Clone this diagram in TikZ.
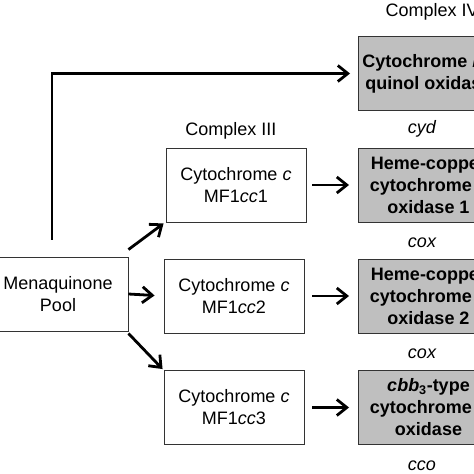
\documentclass[tikz,border=0pt]{standalone}
\usepackage{fontspec}
\setmainfont{Liberation Sans}
\usetikzlibrary{arrows.meta}

\begin{document}
\begin{tikzpicture}[x=1pt,y=-1pt,>={Straight Barb[length=10pt,width=16pt]},
	box/.style = {draw=black!80,line width=0.9pt,minimum width=140pt,minimum height=74pt,inner sep=0pt,align=center,font=\fontsize{18}{22}\selectfont},
	enzyme/.style = {box,fill=black!25,font=\fontsize{18}{22}\selectfont\bfseries},
	tag/.style = {font=\fontsize{18}{22}\selectfont},
	gene/.style = {tag,font=\fontsize{18}{22}\selectfont\itshape},
	flow/.style = {->,line width=2.8pt}
	]
	\useasboundingbox (0,0) rectangle (474,474);
	\clip (0,0) rectangle (474,474);
	%POOL
	\node[box] (@mq) at (58,294) {Menaquinone\\Pool};
	%COMPLEX III
	\node[tag] (@c3tag) at (231,131) {Complex III};
	\node[box] (@cc1) at (236,185) {Cytochrome \textit{c}\\MF1\textit{cc}1};
	\node[box] (@cc2) at (234,296) {Cytochrome \textit{c}\\MF1\textit{cc}2};
	\node[box] (@cc3) at (234,407.5) {Cytochrome \textit{c}\\MF1\textit{cc}3};
	%COMPLEX IV
	\node[tag,anchor=west] (@c4tag) at (382,12) {Complex IV};
	\node[enzyme] (@bd) at (428.5,73.5) {Cytochrome \textit{bd}\\quinol oxidase};
	\node[enzyme] (@h1) at (428.5,185) {Heme-copper\\cytochrome \textit{c}\\oxidase 1};
	\node[enzyme] (@h2) at (428.5,296) {Heme-copper\\cytochrome \textit{c}\\oxidase 2};
	\node[enzyme] (@cbb) at (428.5,407.5) {\textit{cbb}\textsubscript{3}-type\\cytochrome \textit{c}\\oxidase};
	%Geni
	\node[gene] (@cyd) at (422,129) {cyd};
	\node[gene] (@cox1) at (422,243) {cox};
	\node[gene] (@cox2) at (422,354) {cox};
	\node[gene] (@cco) at (422,466) {cco};
	%Frecce dal pool
	\draw[flow,shorten >=8pt] ([xshift=-6pt,yshift=17pt]@mq.north) |- (@bd.west);
	\draw[flow] ([yshift=7pt]@mq.north east) -- ([xshift=-2pt,yshift=-1pt]@cc1.south west);
	\draw[flow,shorten >=9pt] (@mq.east) -- (@cc2.west);
	\draw[flow] ([yshift=-2pt]@mq.south east) -- ([xshift=-1pt,yshift=1pt]@cc3.north west);
	%Frecce verso IV
	\draw[flow,shorten <=6pt,shorten >=9pt] (@cc1.east) -- (@h1.west);
	\draw[flow,shorten <=8pt,shorten >=9pt] (@cc2.east) -- (@h2.west);
	\draw[flow,shorten <=8pt,shorten >=9pt] (@cc3.east) -- (@cbb.west);
\end{tikzpicture}
\end{document}
